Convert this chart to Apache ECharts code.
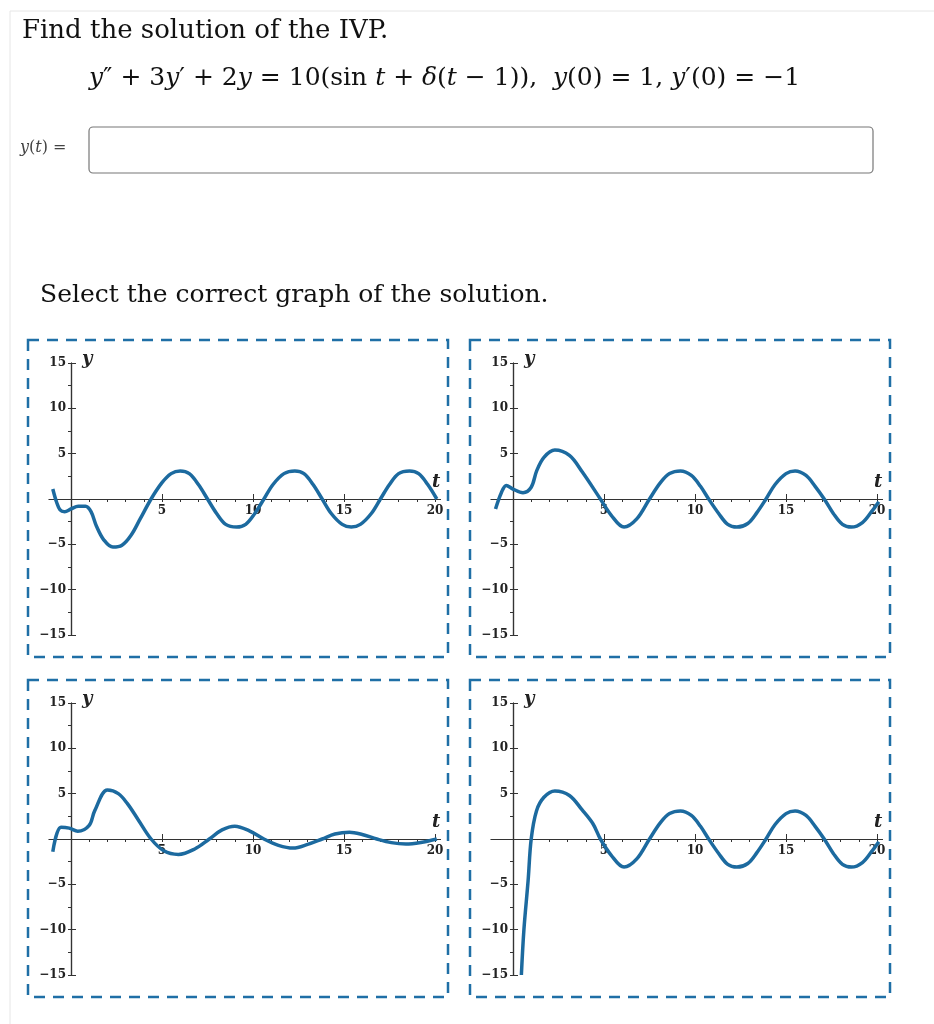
<!DOCTYPE html>
<html>
<head>
<meta charset="utf-8">
<script src="https://cdn.jsdelivr.net/npm/echarts@6/dist/echarts.min.js"></script>
<style>
  html, body { margin: 0; padding: 0; background: #fff; }
  #main { width: 934px; height: 1024px; }
</style>
</head>
<body>
<div id="main"></div>
<script>
// curves (t, y)
var tA = [-1, -0.8, -0.6, -0.35, 0, 0.4, 0.8, 1.1, 1.4, 1.8, 2.3, 2.8, 3.3, 3.8, 4.4, 5, 5.5, 6, 6.5, 7, 7.5, 8, 8.5, 9.1, 9.6, 10.1, 10.6, 11.1, 11.7, 12.3, 12.8, 13.3, 13.8, 14.3, 14.9, 15.4, 15.9, 16.5, 17, 17.5, 18, 18.6, 19.1, 19.6, 20.1];
var yA = [1.1, -0.3, -1.2, -1.4, -1.1, -0.8, -0.8, -1.4, -3.0, -4.5, -5.3, -5.1, -4.0, -2.2, 0, 1.8, 2.8, 3.1, 2.8, 1.6, 0, -1.6, -2.8, -3.1, -2.8, -1.6, 0, 1.6, 2.8, 3.1, 2.8, 1.6, 0, -1.6, -2.8, -3.1, -2.8, -1.6, 0, 1.6, 2.8, 3.1, 2.8, 1.6, 0];

var tB = [-0.96, -0.64, -0.37, 0, 0.55, 1.0, 1.3, 1.7, 2.3, 3.1, 3.8, 4.8, 5.4, 6.1, 6.8, 7.5, 8.1, 8.6, 9.2, 9.8, 10.3, 10.75, 11.3, 11.8, 12.3, 12.9, 13.4, 13.9, 14.4, 15.0, 15.5, 16.1, 16.6, 17.1, 17.6, 18.1, 18.6, 19.2, 19.7, 20.1];
var yB = [-1.1, 0.7, 1.5, 1.1, 0.7, 1.3, 3.1, 4.6, 5.4, 4.8, 3.0, 0, -1.8, -3.1, -2.2, 0, 1.8, 2.8, 3.1, 2.6, 1.4, 0, -1.6, -2.8, -3.1, -2.7, -1.5, 0, 1.6, 2.8, 3.1, 2.6, 1.4, 0, -1.6, -2.8, -3.1, -2.6, -1.4, -0.3];

var tC = [-1.0, -0.55, -0.1, 0.37, 1.0, 1.3, 2.0, 2.6, 3.1, 3.7, 4.4, 5.1, 5.9, 6.8, 7.6, 8.3, 9.0, 9.8, 10.6, 11.4, 12.2, 13.0, 13.8, 14.5, 15.3, 16.0, 16.8, 17.6, 18.4, 19.3, 20.1];
var yC = [-1.4, 1.3, 1.2, 0.85, 1.5, 3.1, 5.4, 5.0, 3.9, 2.1, 0, -1.3, -1.7, -1.1, 0, 1.0, 1.4, 0.9, 0, -0.7, -1.0, -0.6, 0, 0.55, 0.75, 0.5, 0, -0.4, -0.55, -0.35, 0];

var tD = [0.46, 0.6, 0.83, 1.0, 1.29, 1.7, 2.3, 3.1, 3.8, 4.4, 4.8, 5.4, 6.1, 6.8, 7.5, 8.1, 8.6, 9.2, 9.8, 10.3, 10.75, 11.3, 11.8, 12.3, 12.9, 13.4, 13.9, 14.4, 15.0, 15.5, 16.1, 16.6, 17.1, 17.6, 18.1, 18.6, 19.2, 19.7, 20.1];
var yD = [-15, -10, -4.6, 0, 3.1, 4.6, 5.3, 4.8, 3.2, 1.65, 0, -1.8, -3.1, -2.2, 0, 1.8, 2.8, 3.1, 2.6, 1.4, 0, -1.6, -2.8, -3.1, -2.7, -1.5, 0, 1.6, 2.8, 3.1, 2.6, 1.4, 0, -1.6, -2.8, -3.1, -2.6, -1.4, -0.3];

var xLabels = [5, 10, 15, 20];
var xMinorTicks = [1,2,3,4,5,6,7,8,9,10,11,12,13,14,15,16,17,18,19,20];
var yLabels = [-15, -10, -5, 5, 10, 15];
var yMinorTicks = [-15,-12.5,-10,-7.5,-5,-2.5,2.5,5,7.5,10,12.5,15];

var curves = [[tA, yA], [tB, yB], [tC, yC], [tD, yD]];
var offsets = [[0, 0], [442, 0], [0, 340], [442, 340]];

var serif = '"DejaVu Serif", serif';
var axisColor = '#333';
var blue = '#1c6a9f';
var gridH = 272;
var xMin = -1.2, xMax = 20.3, pxPerT = 18.2;
var yShift = xMin * pxPerT; // move the y axis onto t = 0

var grids = [], xAxes = [], yAxes = [], series = [], graphics = [];

curves.forEach(function (c, i) {
  var ox = offsets[i][0], oy = offsets[i][1];
  grids.push({ left: 71 + ox + yShift, top: 363 + oy, width: (xMax - xMin) * pxPerT, height: gridH });
  var base = { type: 'value', gridIndex: i, min: xMin, max: xMax, position: 'bottom', offset: -gridH / 2, splitLine: { show: false } };
  xAxes.push(Object.assign({}, base, {
    axisLine: { onZero: false, lineStyle: { color: axisColor, width: 1.2 } },
    axisTick: { customValues: xMinorTicks, length: 3, lineStyle: { color: axisColor } },
    axisLabel: { customValues: xLabels, color: '#222', fontFamily: serif, fontWeight: 'bold', fontSize: 12, margin: 6 }
  }));
  xAxes.push(Object.assign({}, base, {
    axisLine: { onZero: false, lineStyle: { color: axisColor, width: 1.2 } },
    axisTick: { customValues: xLabels, inside: true, length: 5, lineStyle: { color: axisColor } },
    axisLabel: { show: false }
  }));
  var ybase = { type: 'value', gridIndex: i, min: -15, max: 15, position: 'left', offset: yShift, splitLine: { show: false } };
  yAxes.push(Object.assign({}, ybase, {
    axisLine: { onZero: false, lineStyle: { color: axisColor, width: 1.2 } },
    axisTick: { customValues: yMinorTicks, length: 3, lineStyle: { color: axisColor } },
    axisLabel: { customValues: yLabels, color: '#222', fontFamily: serif, fontWeight: 'bold', fontSize: 12, margin: 5,
      formatter: function (v) { return v < 0 ? '\u2212' + (-v) : String(v); } }
  }));
  yAxes.push(Object.assign({}, ybase, {
    axisLine: { onZero: false, lineStyle: { color: axisColor, width: 1.2 } },
    axisTick: { customValues: yLabels, inside: true, length: 5, lineStyle: { color: axisColor } },
    axisLabel: { show: false }
  }));
  var data = c[0].map(function (t, k) { return [t, c[1][k]]; });
  series.push({
    type: 'line', xAxisIndex: 2 * i, yAxisIndex: 2 * i, data: data, smooth: 0.35,
    showSymbol: false, clip: false, lineStyle: { color: blue, width: 3.5 }, z: 5
  });
  graphics.push({
    type: 'rect', shape: { x: 28 + ox, y: 340 + oy, width: 420, height: 317 },
    style: { fill: '#fff', stroke: '#1f6fa6', lineWidth: 2.5, lineDash: [11, 8] }, z: -10
  });
  graphics.push({ type: 'text', left: 82 + ox, top: 350 + oy,
    style: { text: 'y', font: 'italic bold 18px ' + serif, fill: '#222' } });
  graphics.push({ type: 'text', left: 432 + ox, top: 473 + oy,
    style: { text: 't', font: 'italic bold 18px ' + serif, fill: '#222' } });
});

graphics.push(
  { type: 'line', shape: { x1: 10, y1: 11, x2: 934, y2: 11 }, style: { stroke: '#e6e6e6', lineWidth: 1 } },
  { type: 'line', shape: { x1: 10, y1: 11, x2: 10, y2: 1024 }, style: { stroke: '#e6e6e6', lineWidth: 1 } },
  { type: 'text', left: 22, top: 18, style: { text: 'Find the solution of the IVP.', font: '26px ' + serif, fill: '#111' } },
  { type: 'text', left: 89, top: 66, style: {
      text: '{i|y}\u2033 + 3{i|y}\u2032 + 2{i|y} = 10(sin {i|t} + {i|\u03b4}({i|t} \u2212 1)),  {i|y}(0) = 1, {i|y}\u2032(0) = \u22121',
      font: '25px ' + serif, fill: '#111',
      rich: { i: { font: 'italic 25px ' + serif, fill: '#111' } } } },
  { type: 'text', left: 20, top: 140, style: {
      text: '{i|y}({i|t}) =', font: '16px ' + serif, fill: '#444',
      rich: { i: { font: 'italic 16px ' + serif, fill: '#444' } } } },
  { type: 'rect', shape: { x: 89, y: 127, width: 784, height: 46, r: 4 }, style: { fill: '#fff', stroke: '#777', lineWidth: 1.2 } },
  { type: 'text', left: 40, top: 283, style: { text: 'Select the correct graph of the solution.', font: '25px ' + serif, fill: '#111' } }
);

var chart = echarts.init(document.getElementById('main'));
chart.setOption({
  animation: false,
  backgroundColor: '#fff',
  grid: grids,
  xAxis: xAxes,
  yAxis: yAxes,
  series: series,
  graphic: graphics
});
</script>
</body>
</html>
